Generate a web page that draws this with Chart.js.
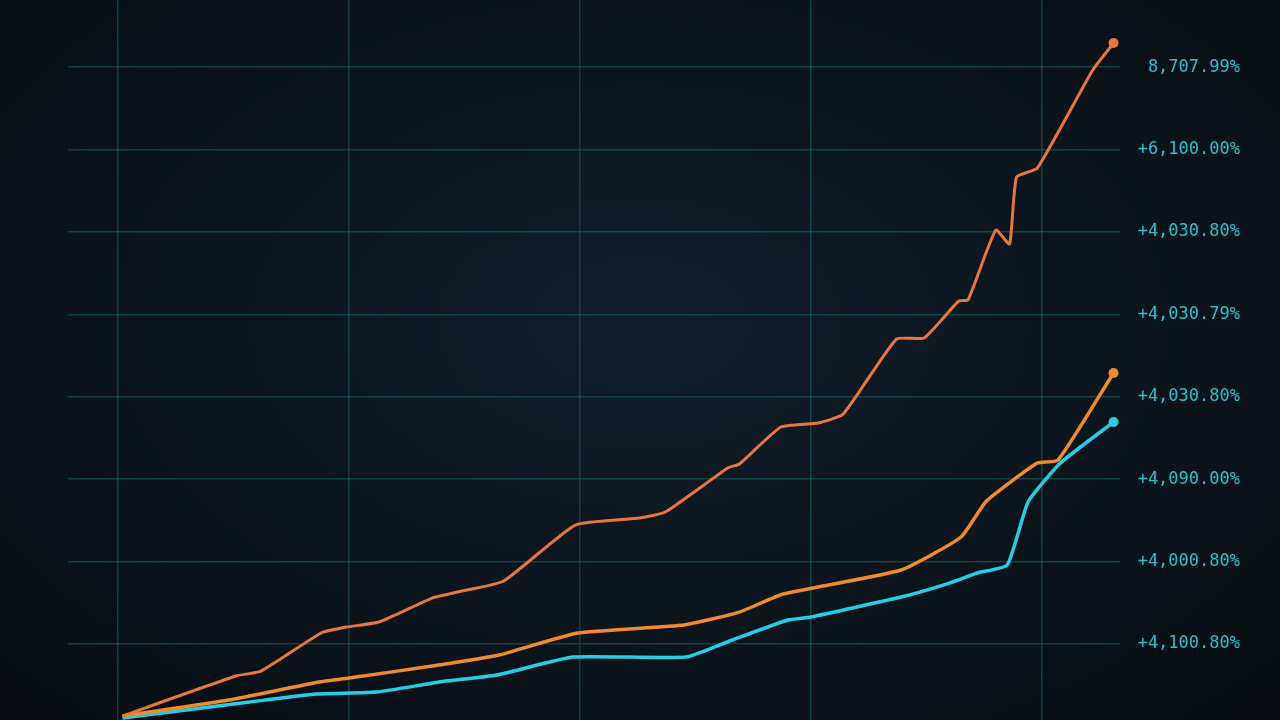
<!DOCTYPE html>
<html>
<head>
<meta charset="utf-8">
<script src="https://cdn.jsdelivr.net/npm/chart.js@4.4.1/dist/chart.umd.min.js"></script>
<style>
  html, body { margin: 0; padding: 0; }
  body {
    width: 1280px; height: 720px; overflow: hidden;
    background: radial-gradient(ellipse at 50% 45%, #111e29 0%, #0c141c 55%, #080c12 100%);
  }
  #wrap { position: relative; width: 1280px; height: 720px; }
</style>
</head>
<body>
<div id="wrap"><canvas id="growthChart" width="1280" height="720"></canvas></div>
<script>
// period index (x) and values for each series
var periodsA = [0.2, 5.1, 6.2, 8.8, 9.9, 11.3, 13.6, 14.7, 16.7, 19.8, 22.6, 23.7, 26.4, 26.9, 28.7, 30.3, 31.4, 33.7, 34.9, 36.4, 36.8, 38.0, 38.6, 38.9, 39.8, 42.2, 43.1];
var valuesA  = [126, 612, 672, 1134, 1206, 1267, 1558, 1631, 1765, 2444, 2529, 2602, 3136, 3185, 3634, 3682, 3791, 4701, 4714, 5163, 5175, 6024, 5854, 6667, 6777, 7966, 8294];

var periodsB = [0.2, 4.8, 8.7, 10.0, 13.9, 16.5, 19.9, 24.5, 26.9, 28.8, 33.9, 36.5, 37.6, 39.8, 40.7, 43.1];
var valuesB  = [126, 320, 539, 587, 745, 867, 1134, 1231, 1388, 1607, 1898, 2299, 2735, 3197, 3233, 4289];

var periodsC = [0.2, 5.7, 8.6, 11.2, 13.9, 16.4, 19.7, 24.6, 26.6, 29.0, 30.0, 33.9, 36.0, 37.2, 38.5, 39.4, 40.8, 43.1];
var valuesC  = [102, 296, 393, 417, 539, 624, 842, 842, 1049, 1291, 1328, 1570, 1740, 1862, 1959, 2723, 3197, 3694];

var gridX = [0, 10, 20, 30, 40];
var gridY = [1000, 2000, 3000, 4000, 5000, 6000, 7000, 8000];
var tickLabels = ['+4,100.80%', '+4,000.80%', '+4,090.00%', '+4,030.80%', '+4,030.79%', '+4,030.80%', '+6,100.00%', '8,707.99%'];

function toPoints(xs, ys) {
    return xs.map(function(x, i) { return { x: x, y: ys[i] }; });
}

function lastDot(ctx) {
    return ctx.dataIndex === ctx.dataset.data.length - 1 ? 5 : 0;
}

var gridColor = 'rgba(18, 104, 100, 0.55)';

var ctx = document.getElementById('growthChart').getContext('2d');
new Chart(ctx, {
    type: 'line',
    data: {
        datasets: [
            { data: toPoints(periodsA, valuesA), borderColor: '#e5773f', backgroundColor: '#e5773f', borderWidth: 3, tension: 0.15, pointRadius: lastDot, pointBorderWidth: 0 },
            { data: toPoints(periodsB, valuesB), borderColor: '#f08a2a', backgroundColor: '#f08a2a', borderWidth: 3.5, tension: 0.15, pointRadius: lastDot, pointBorderWidth: 0 },
            { data: toPoints(periodsC, valuesC), borderColor: '#26cde4', backgroundColor: '#26cde4', borderWidth: 3.5, tension: 0.15, pointRadius: lastDot, pointBorderWidth: 0 }
        ]
    },
    options: {
        responsive: false,
        animation: false,
        layout: { autoPadding: false, padding: { left: 68, right: 40, top: 0, bottom: 0 } },
        plugins: { legend: { display: false }, tooltip: { enabled: false } },
        scales: {
            x: {
                type: 'linear',
                min: -2.16,
                max: 43.38,
                afterBuildTicks: function(scale) { scale.ticks = gridX.map(function(v) { return { value: v }; }); },
                afterFit: function(scale) { scale.height = 0; scale.paddingLeft = 0; scale.paddingRight = 0; },
                ticks: { display: false },
                border: { display: false },
                grid: { color: gridColor, lineWidth: 1.5, drawTicks: false }
            },
            y: {
                position: 'right',
                min: 78,
                max: 8816,
                afterBuildTicks: function(scale) { scale.ticks = gridY.map(function(v) { return { value: v }; }); },
                afterFit: function(scale) { scale.width = 120; scale.paddingTop = 0; scale.paddingBottom = 0; },
                border: { display: false },
                grid: { color: gridColor, lineWidth: 1.5, drawTicks: false },
                ticks: {
                    crossAlign: 'far',
                    color: '#2cc0cc',
                    font: { family: 'DejaVu Sans Mono', size: 17 },
                    callback: function(value) { return tickLabels[gridY.indexOf(value)]; }
                }
            }
        }
    }
});
</script>
</body>
</html>
